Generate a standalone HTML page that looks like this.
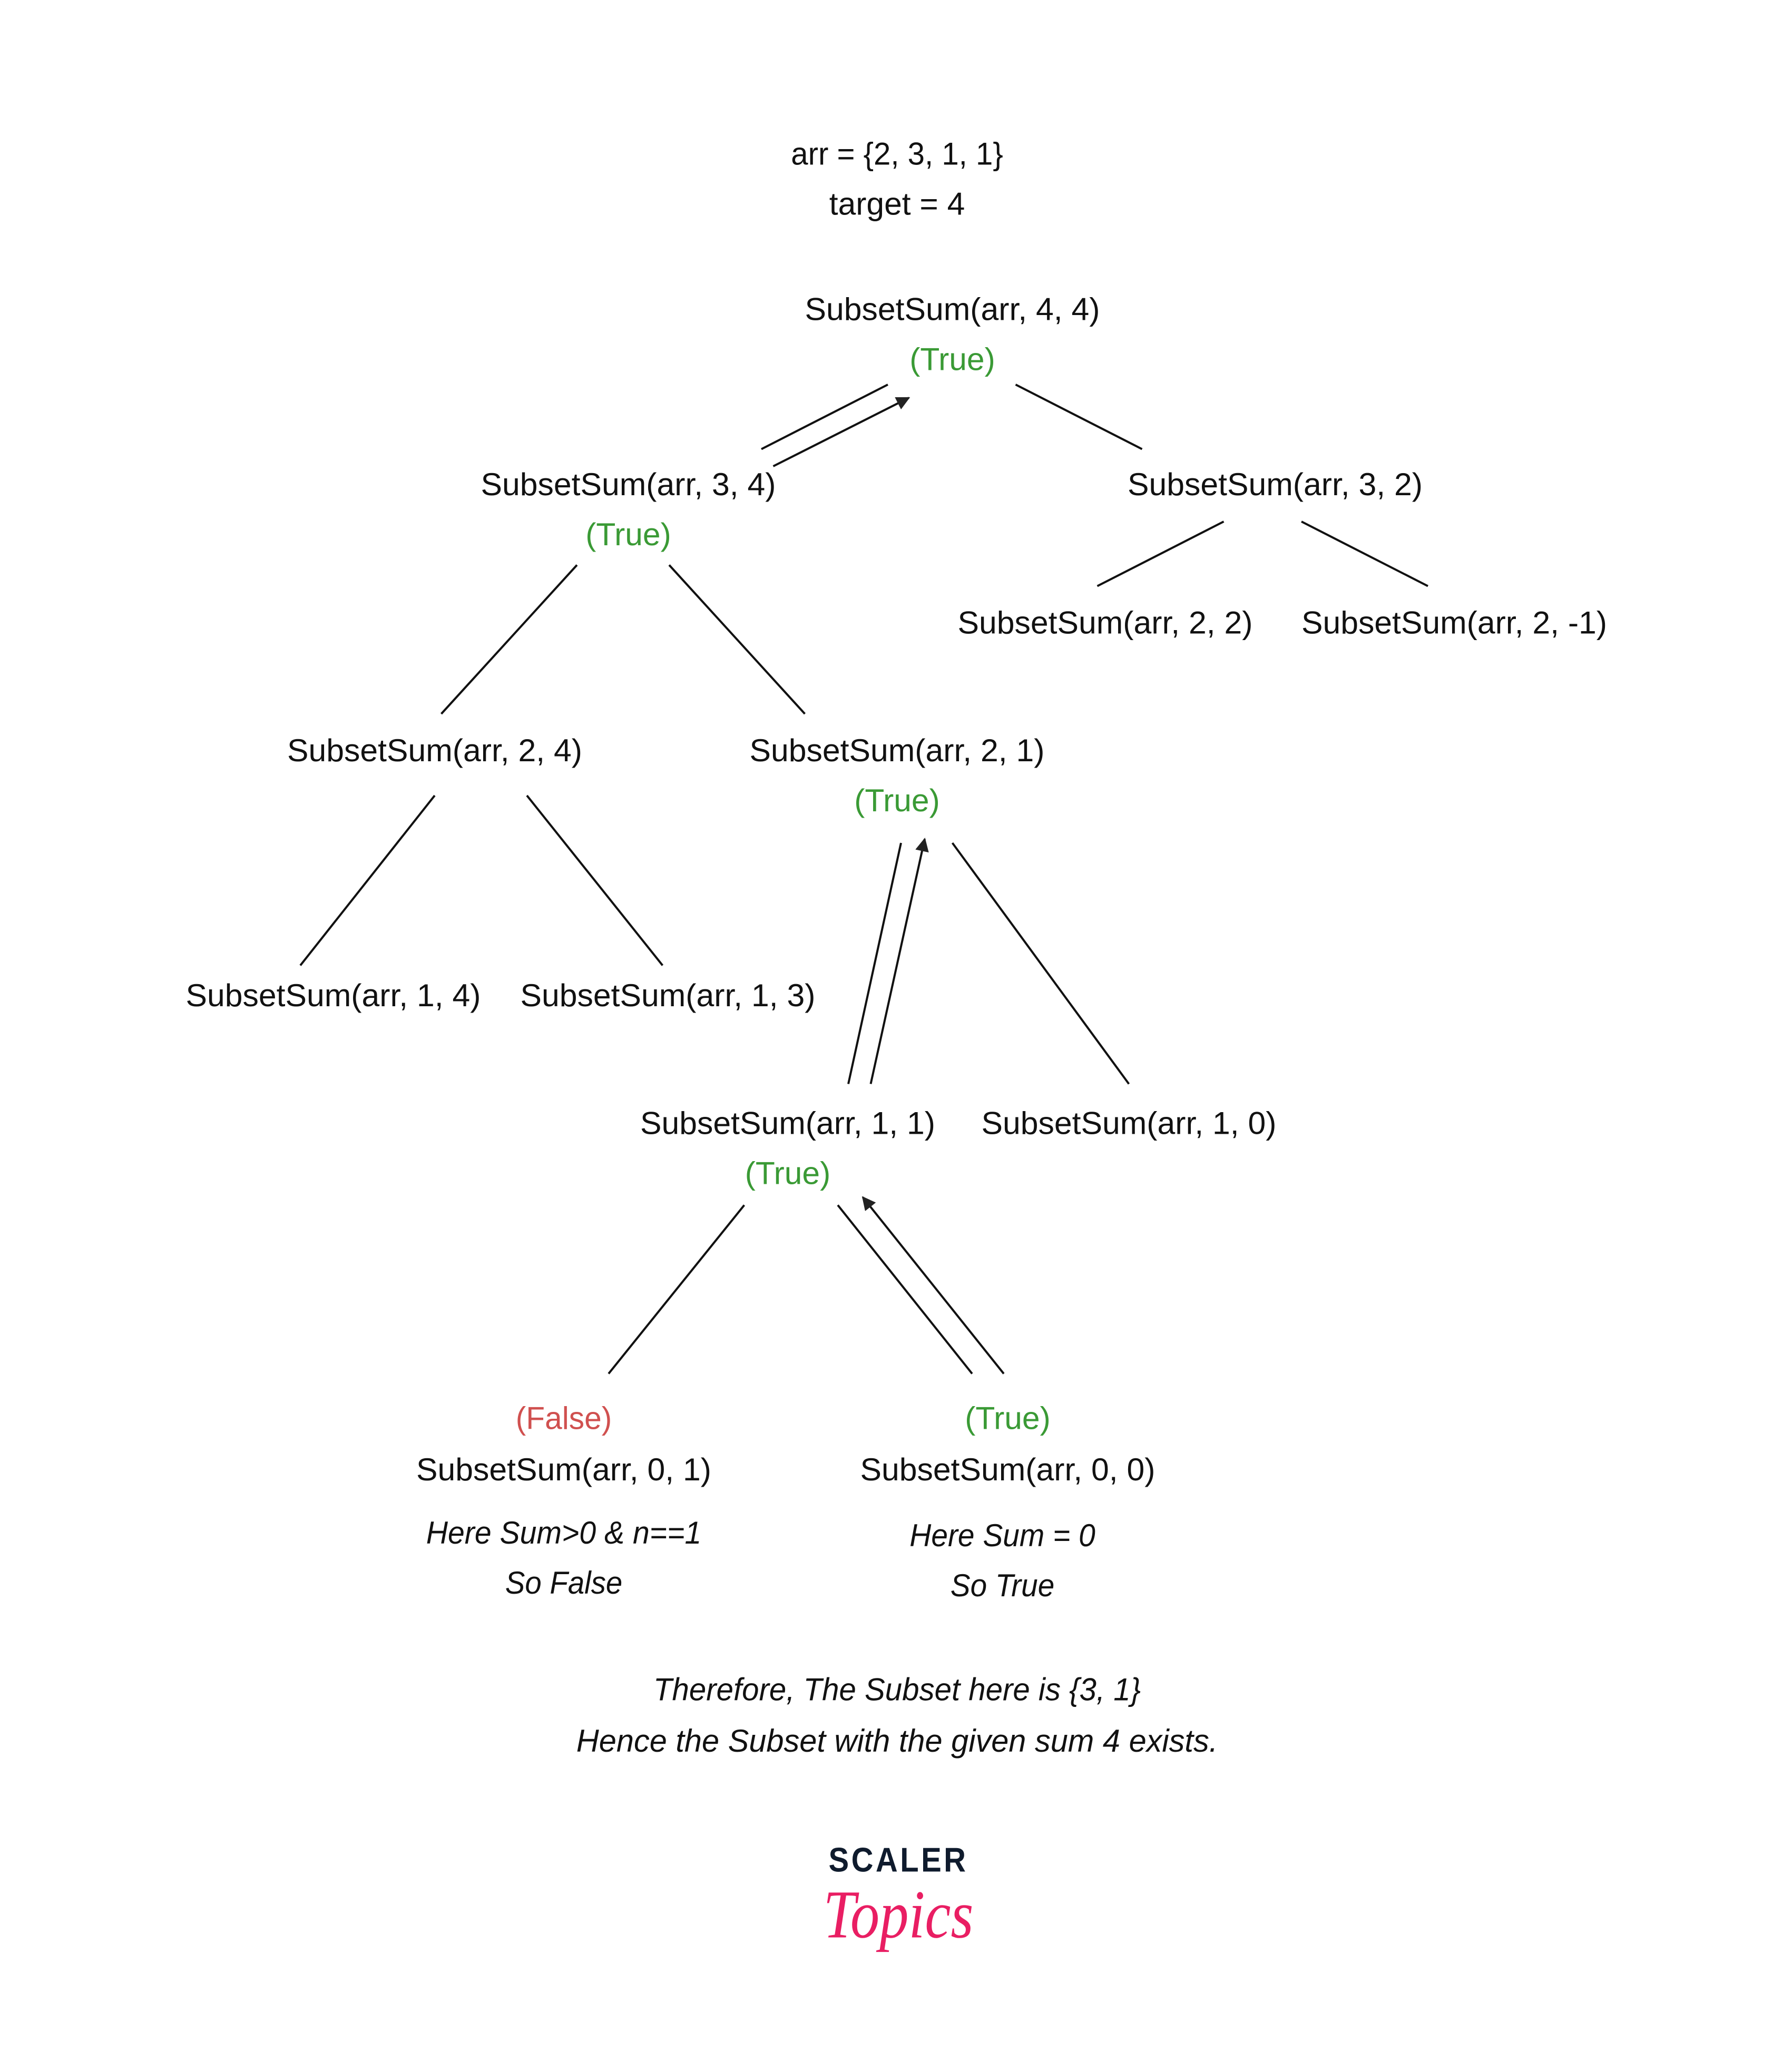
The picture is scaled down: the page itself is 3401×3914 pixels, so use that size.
<!DOCTYPE html>
<html><head><meta charset="utf-8"><style>html,body{margin:0;padding:0;background:#fff}svg{display:block}</style></head>
<body>
<svg width="3401" height="3914" viewBox="0 0 1360.4 1565.6" xmlns="http://www.w3.org/2000/svg">
<defs><marker id="a" viewBox="0 0 10 10" refX="9" refY="5" markerWidth="6.5" markerHeight="6.5" orient="auto"><path d="M0,0L10,5L0,10z" fill="#222"/></marker></defs>
<rect width="1360.4" height="1565.6" fill="#fff"/>
<g font-family="Liberation Sans, sans-serif" font-size="24" text-anchor="middle" fill="#111" transform="translate(0,-1)">
<text x="681" y="126" textLength="161" lengthAdjust="spacingAndGlyphs">arr = {2, 3, 1, 1}</text>
<text x="681" y="164" textLength="103" lengthAdjust="spacingAndGlyphs">target = 4</text>
<text x="723" y="244" textLength="224" lengthAdjust="spacingAndGlyphs">SubsetSum(arr, 4, 4)</text>
<text x="723" y="282" fill="#3a9a35" textLength="65" lengthAdjust="spacingAndGlyphs">(True)</text>
<text x="477" y="377" textLength="224" lengthAdjust="spacingAndGlyphs">SubsetSum(arr, 3, 4)</text>
<text x="477" y="415" fill="#3a9a35" textLength="65" lengthAdjust="spacingAndGlyphs">(True)</text>
<text x="968" y="377" textLength="224" lengthAdjust="spacingAndGlyphs">SubsetSum(arr, 3, 2)</text>
<text x="839" y="482" textLength="224" lengthAdjust="spacingAndGlyphs">SubsetSum(arr, 2, 2)</text>
<text x="1104" y="482" textLength="232" lengthAdjust="spacingAndGlyphs">SubsetSum(arr, 2, -1)</text>
<text x="330" y="579" textLength="224" lengthAdjust="spacingAndGlyphs">SubsetSum(arr, 2, 4)</text>
<text x="681" y="579" textLength="224" lengthAdjust="spacingAndGlyphs">SubsetSum(arr, 2, 1)</text>
<text x="681" y="617" fill="#3a9a35" textLength="65" lengthAdjust="spacingAndGlyphs">(True)</text>
<text x="253" y="765" textLength="224" lengthAdjust="spacingAndGlyphs">SubsetSum(arr, 1, 4)</text>
<text x="507" y="765" textLength="224" lengthAdjust="spacingAndGlyphs">SubsetSum(arr, 1, 3)</text>
<text x="598" y="862" textLength="224" lengthAdjust="spacingAndGlyphs">SubsetSum(arr, 1, 1)</text>
<text x="598" y="900" fill="#3a9a35" textLength="65" lengthAdjust="spacingAndGlyphs">(True)</text>
<text x="857" y="862" textLength="224" lengthAdjust="spacingAndGlyphs">SubsetSum(arr, 1, 0)</text>
<text x="428" y="1086" fill="#d0504f" textLength="73" lengthAdjust="spacingAndGlyphs">(False)</text>
<text x="428" y="1125" textLength="224" lengthAdjust="spacingAndGlyphs">SubsetSum(arr, 0, 1)</text>
<text x="765" y="1086" fill="#3a9a35" textLength="65" lengthAdjust="spacingAndGlyphs">(True)</text>
<text x="765" y="1125" textLength="224" lengthAdjust="spacingAndGlyphs">SubsetSum(arr, 0, 0)</text>
<g font-style="italic">
<text x="428" y="1173" textLength="209" lengthAdjust="spacingAndGlyphs">Here Sum&gt;0 &amp; n==1</text>
<text x="428" y="1211" textLength="89" lengthAdjust="spacingAndGlyphs">So False</text>
<text x="761" y="1175" textLength="141" lengthAdjust="spacingAndGlyphs">Here Sum = 0</text>
<text x="761" y="1213" textLength="79" lengthAdjust="spacingAndGlyphs">So True</text>
<text x="681" y="1292" textLength="370" lengthAdjust="spacingAndGlyphs">Therefore, The Subset here is {3, 1}</text>
<text x="681" y="1331" textLength="487" lengthAdjust="spacingAndGlyphs">Hence the Subset with the given sum 4 exists.</text>
</g>
<text x="682" y="1422" font-size="26" font-weight="bold" fill="#0f1b2d" letter-spacing="2" textLength="106" lengthAdjust="spacingAndGlyphs">SCALER</text>
<text x="682" y="1472" font-family="Liberation Serif, serif" font-style="italic" font-size="52" fill="#e91e63" textLength="114" lengthAdjust="spacingAndGlyphs">Topics</text>
</g>
<g stroke="#111" stroke-width="1.6" fill="none">
<line x1="578" y1="341" x2="674" y2="292"/>
<line x1="587" y1="354" x2="690" y2="302" marker-end="url(#a)"/>
<line x1="771" y1="292" x2="867" y2="341"/>
<line x1="929" y1="396" x2="833" y2="445"/>
<line x1="988" y1="396" x2="1084" y2="445"/>
<line x1="438" y1="429" x2="335" y2="542"/>
<line x1="508" y1="429" x2="611" y2="542"/>
<line x1="330" y1="604" x2="228" y2="733"/>
<line x1="400" y1="604" x2="503" y2="733"/>
<line x1="684" y1="640" x2="644" y2="823"/>
<line x1="661" y1="823" x2="702" y2="637" marker-end="url(#a)"/>
<line x1="723" y1="640" x2="857" y2="823"/>
<line x1="565" y1="915" x2="462" y2="1043"/>
<line x1="636" y1="915" x2="738" y2="1043"/>
<line x1="762" y1="1043" x2="655" y2="909" marker-end="url(#a)"/>
</g>
</svg>
</body></html>
